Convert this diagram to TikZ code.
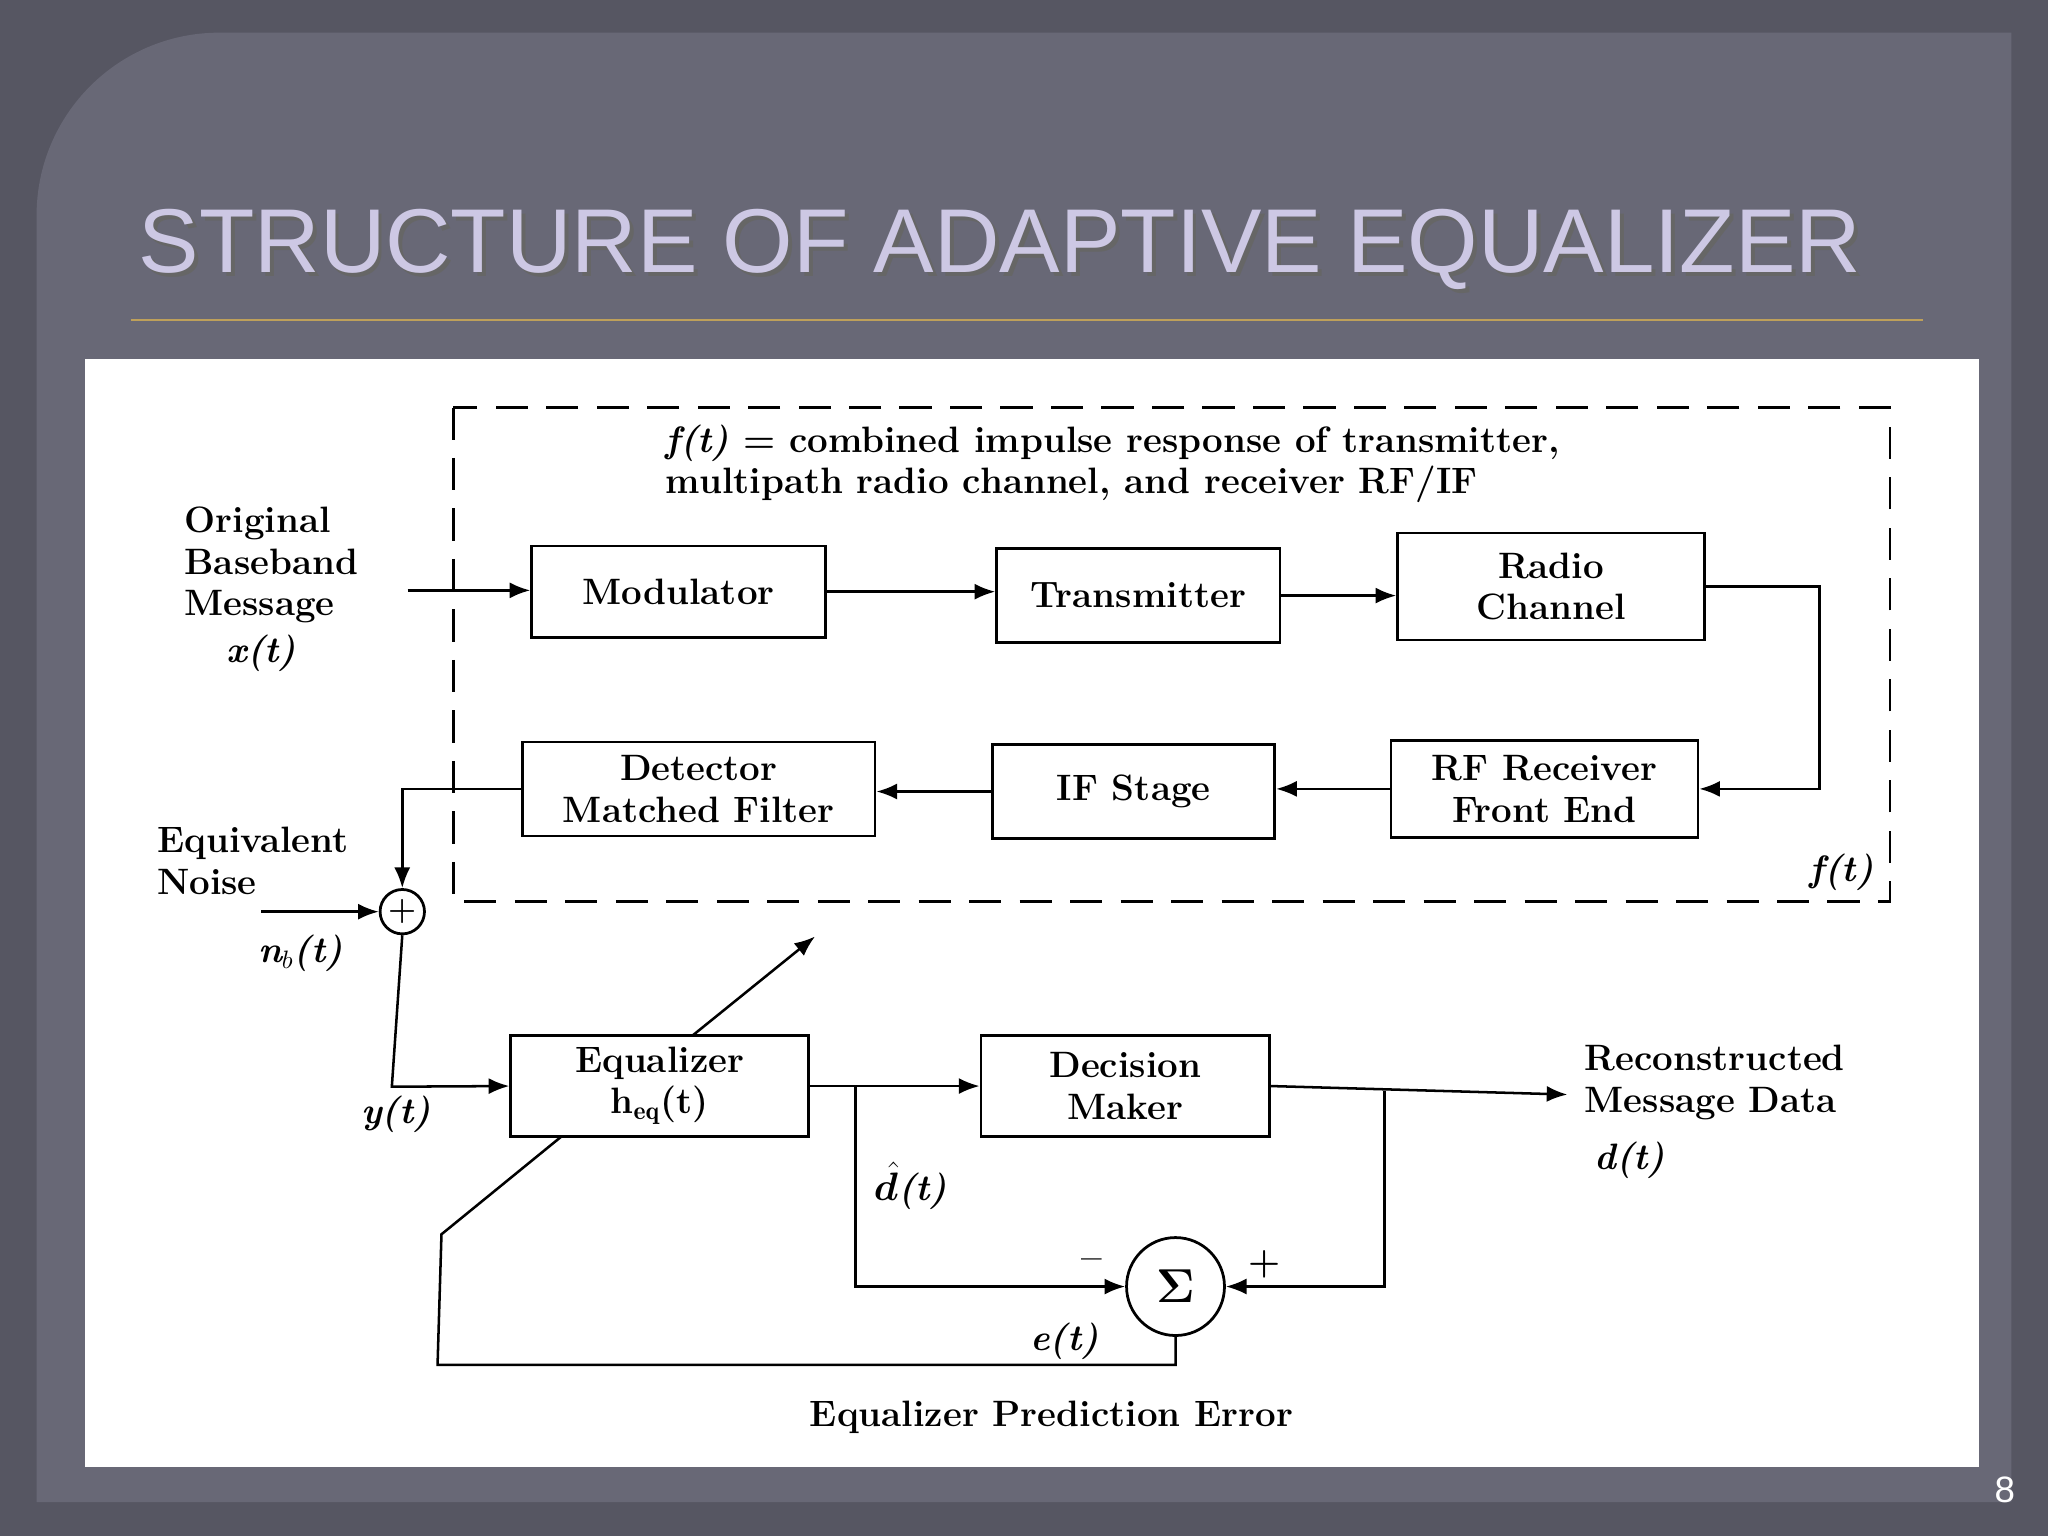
\documentclass[tikz,border=0pt]{standalone}
\usepackage{bm}
\usepackage{fontspec}
\newfontfamily\titlefont{Liberation Sans}
\usetikzlibrary{arrows.meta}
\definecolor{bgdark}{RGB}{86,86,98}
\definecolor{panel}{RGB}{104,104,118}
\definecolor{titlec}{RGB}{205,200,228}
\definecolor{goldl}{RGB}{190,160,90}
\tikzset{
 blk/.style={draw,line width=1.2pt,inner sep=0pt,font=\fontsize{16}{18}\selectfont\bfseries,align=center},
 lbl/.style={font=\fontsize{16}{18}\selectfont\bfseries,align=left,inner sep=0pt},
 arr/.style={line width=1.1pt,-{Latex[length=9pt,width=7pt]}},
 ln/.style={line width=1.1pt},
}
\begin{document}
\begin{tikzpicture}[x=0.02cm,y=-0.02cm]
\fill[bgdark] (0,0) rectangle (1568,1176);
\useasboundingbox (0,0) rectangle (1568,1176);
\fill[panel] (28,1150) -- (28,165) arc[start angle=180,end angle=270,radius=140] -- (1540,25) -- (1540,1150) -- cycle;
\node[font=\titlefont\fontsize{39.5}{44}\selectfont,text=black!60,anchor=west] (tsh) at (103,194) {STRUCTURE OF ADAPTIVE EQUALIZER};
\node[font=\titlefont\fontsize{39.5}{44}\selectfont,text=titlec,anchor=west] (title) at (100,191) {STRUCTURE OF ADAPTIVE EQUALIZER};
\draw[goldl,line width=1pt] (100,245) -- (1472,245);
\node[text=white,font=\titlefont\fontsize{16}{18}\selectfont] (pg) at (1535,1141) {8};
\fill[white] (65,275) rectangle (1515,1123);
% dashed region
\draw[line width=1.2pt,dash pattern=on 14pt off 8pt] (347,312) rectangle (1447,690);
\node[lbl,align=left] (ft) at (852,355) {\textit{f(t)} = combined impulse response of transmitter,\\ multipath radio channel, and receiver RF/IF};
\node[lbl] (ft2) at (1410,668) {\textit{f(t)}};
% blocks
\node[blk,minimum width=4.5cm,minimum height=1.4cm] (mod) at (519.5,453) {Modulator};
\node[blk,minimum width=4.34cm,minimum height=1.44cm] (tx) at (871.5,456) {Transmitter};
\node[blk,minimum width=4.7cm,minimum height=1.64cm] (rc) at (1187.5,449) {Radio\\Channel};
\node[blk,minimum width=5.4cm,minimum height=1.44cm] (det) at (535,604) {Detector\\Matched Filter};
\node[blk,minimum width=4.32cm,minimum height=1.44cm] (ifs) at (868,606) {IF Stage};
\node[blk,minimum width=4.7cm,minimum height=1.48cm] (rf) at (1182.5,604) {RF Receiver\\Front End};
\node[blk,minimum width=4.56cm,minimum height=1.54cm] (eq) at (505,831.5) {Equalizer\\h$_{\mathbf{eq}}$(t)};
\node[blk,minimum width=4.42cm,minimum height=1.54cm] (dm) at (861.5,831.5) {Decision\\Maker};
\node[draw,circle,line width=1.2pt,minimum size=1.5cm,inner sep=0pt,font=\fontsize{22}{24}\selectfont] (sum) at (900,985) {$\bm{\Sigma}$};
\node[draw,circle,line width=1.2pt,minimum size=0.68cm,inner sep=0pt,font=\fontsize{14}{16}\selectfont\bfseries] (pl) at (308,698) {+};
% labels
\node[lbl,anchor=north west] (orig) at (141,388) {Original\\Baseband\\Message};
\node[lbl] (xt) at (200,500) {\textit{x(t)}};
\node[lbl,anchor=north west] (eqn) at (120,633) {Equivalent\\Noise};
\node[lbl] (nb) at (230,730) {\textit{n$_b$(t)}};
\node[lbl] (yt) at (303,853) {\textit{y(t)}};
\node[lbl] (dh) at (697,908) {$\hat{\bm{d}}$\textit{(t)}};
\node[lbl] (et) at (815,1027) {\textit{e(t)}};
\node[lbl] (mi) at (836,968) {--};
\node[lbl] (pp) at (968,968) {+};
\node[lbl,anchor=north west] (rec) at (1213,800) {Reconstructed\\Message Data};
\node[lbl] (dt) at (1248,888) {\textit{d(t)}};
\node[lbl] (epe) at (805,1085) {Equalizer Prediction Error};
% connectors
\coordinate (in) at (312,452);
\draw[arr] (in) -- (mod.west|-in);
\draw[arr] (mod.east) -- (tx.west|-mod.east);
\draw[arr] (tx.east) -- (rc.west|-tx.east);
\draw[arr] (rc.east) -- (1393,449) -- (1393,604) -- (rf.east);
\draw[arr] (rf.west) -- (ifs.east|-rf.west);
\draw[arr] (ifs.west) -- (det.east|-ifs.west);
\draw[arr] (det.west) -- (308,604) -- (pl.north);
\coordinate (nin) at (200,698);
\draw[arr] (nin) -- (pl.west);
\draw[arr] (pl.south) -- (300,832) -- (eq.west);
\coordinate (d1) at (530,793);
\coordinate (d2) at (624,717);
\draw[arr] (d1) -- (d2);
\draw[arr] (eq.east) -- (dm.west);
\draw[arr] (655,831) -- (655,985) -- (sum.west);
\coordinate (out) at (1200,838);
\draw[arr] (dm.east) -- (out);
\draw[arr] (1060,835) -- (1060,985) -- (sum.east);
\draw[ln] (sum.south) -- (900,1045) -- (335,1045) -- (338,945) -- (430,870);
\end{tikzpicture}
\end{document}
